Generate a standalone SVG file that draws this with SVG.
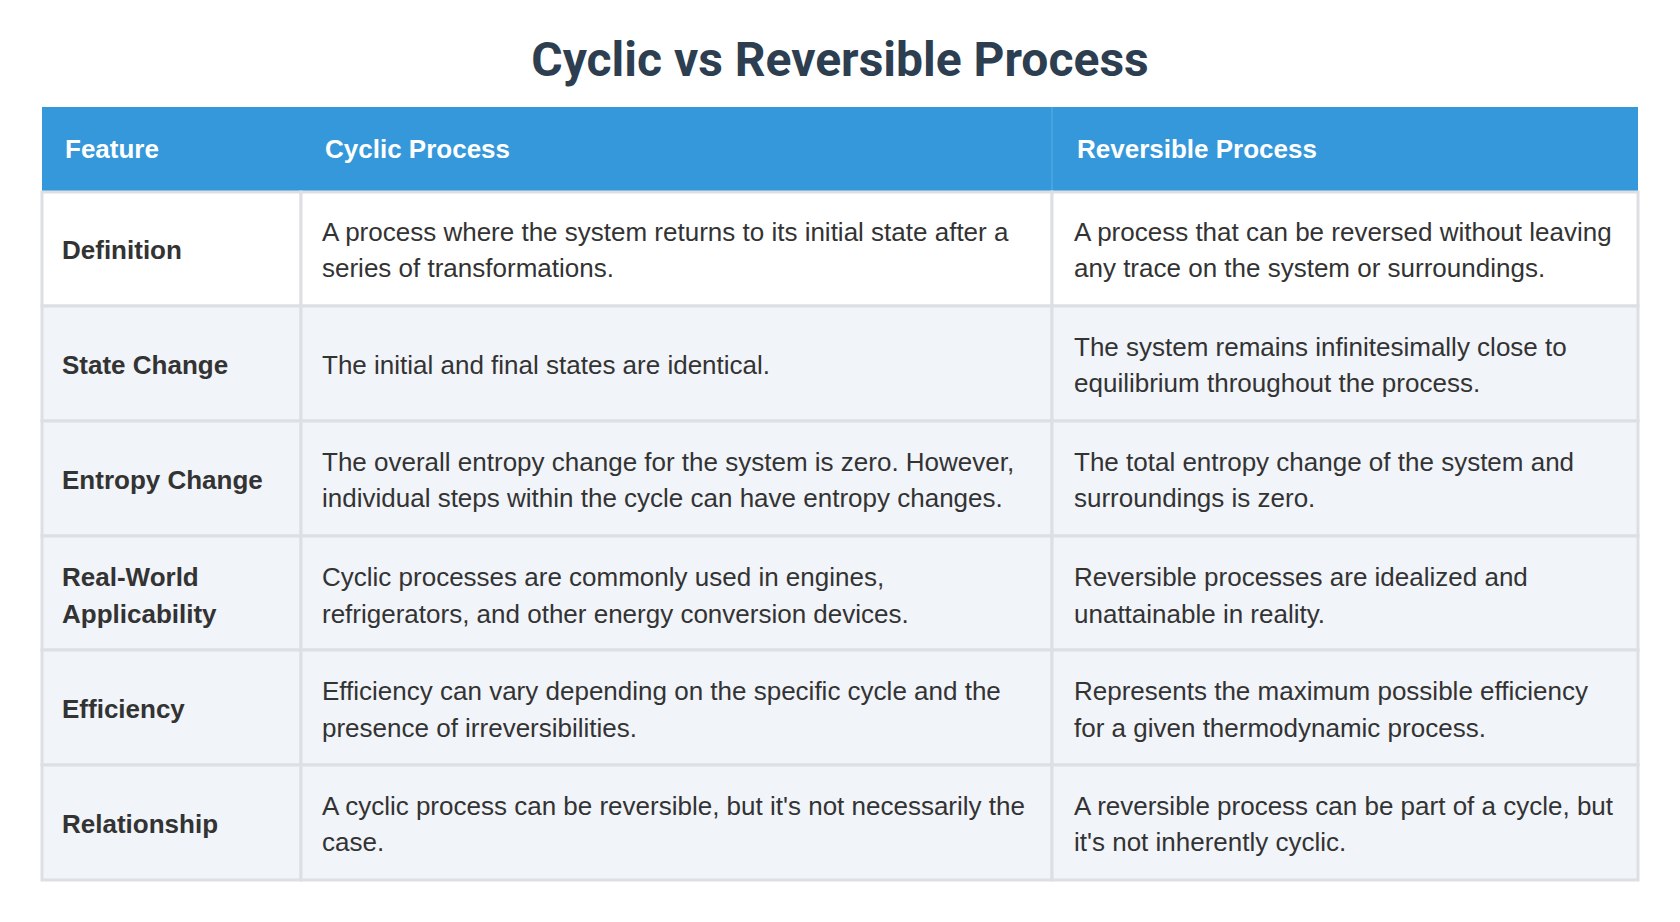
<svg xmlns="http://www.w3.org/2000/svg" width="1680" height="922" viewBox="0 0 1680 922">
<style>
.t{font-family:"Liberation Sans",Arial,sans-serif;}
.title{font-family:Roboto,"Liberation Sans",sans-serif;font-size:48px;font-weight:bold;fill:#2c3e50;}
.h{font-size:26px;font-weight:bold;fill:#fff;}
.l{font-size:26px;font-weight:bold;fill:#333;}
.c{font-size:26px;fill:#333;}
.cell{stroke:#dcdfe3;stroke-width:3;}
</style>
<rect width="1680" height="922" fill="#fff"/>
<text class="title" x="840" y="76" text-anchor="middle">Cyclic vs Reversible Process</text>
<g id="header">
<rect x="42" y="107" width="1596" height="85" fill="#3498db"/>
<line x1="1052" y1="107" x2="1052" y2="192" stroke="#5aaee6" stroke-width="1"/>
<text class="t h" x="65" y="158">Feature</text>
<text class="t h" x="325" y="158">Cyclic Process</text>
<text class="t h" x="1077" y="158">Reversible Process</text>
</g>
<g id="rows">
<g id="r1"><rect class="cell" x="42" y="192" width="259" height="114" fill="#fff"/><rect class="cell" x="301" y="192" width="751" height="114" fill="#fff"/><rect class="cell" x="1052" y="192" width="586" height="114" fill="#fff"/></g>
<g id="r2"><rect class="cell" x="42" y="306" width="259" height="115" fill="#f1f4f9"/><rect class="cell" x="301" y="306" width="751" height="115" fill="#f1f4f9"/><rect class="cell" x="1052" y="306" width="586" height="115" fill="#f1f4f9"/></g>
<g id="r3"><rect class="cell" x="42" y="421" width="259" height="115" fill="#f1f4f9"/><rect class="cell" x="301" y="421" width="751" height="115" fill="#f1f4f9"/><rect class="cell" x="1052" y="421" width="586" height="115" fill="#f1f4f9"/></g>
<g id="r4"><rect class="cell" x="42" y="536" width="259" height="114" fill="#f1f4f9"/><rect class="cell" x="301" y="536" width="751" height="114" fill="#f1f4f9"/><rect class="cell" x="1052" y="536" width="586" height="114" fill="#f1f4f9"/></g>
<g id="r5"><rect class="cell" x="42" y="650" width="259" height="115" fill="#f1f4f9"/><rect class="cell" x="301" y="650" width="751" height="115" fill="#f1f4f9"/><rect class="cell" x="1052" y="650" width="586" height="115" fill="#f1f4f9"/></g>
<g id="r6"><rect class="cell" x="42" y="765" width="259" height="115" fill="#f1f4f9"/><rect class="cell" x="301" y="765" width="751" height="115" fill="#f1f4f9"/><rect class="cell" x="1052" y="765" width="586" height="115" fill="#f1f4f9"/></g>
</g>
<g id="text">
<text class="t l" x="62" y="259">Definition</text>
<text class="t c" x="322" y="241">A process where the system returns to its initial state after a</text>
<text class="t c" x="322" y="277">series of transformations.</text>
<text class="t c" x="1074" y="241">A process that can be reversed without leaving</text>
<text class="t c" x="1074" y="277">any trace on the system or surroundings.</text>

<text class="t l" x="62" y="374">State Change</text>
<text class="t c" x="322" y="374">The initial and final states are identical.</text>
<text class="t c" x="1074" y="356">The system remains infinitesimally close to</text>
<text class="t c" x="1074" y="392">equilibrium throughout the process.</text>

<text class="t l" x="62" y="489">Entropy Change</text>
<text class="t c" x="322" y="471">The overall entropy change for the system is zero. However,</text>
<text class="t c" x="322" y="507">individual steps within the cycle can have entropy changes.</text>
<text class="t c" x="1074" y="471">The total entropy change of the system and</text>
<text class="t c" x="1074" y="507">surroundings is zero.</text>

<text class="t l" x="62" y="586">Real-World</text>
<text class="t l" x="62" y="623">Applicability</text>
<text class="t c" x="322" y="586">Cyclic processes are commonly used in engines,</text>
<text class="t c" x="322" y="623">refrigerators, and other energy conversion devices.</text>
<text class="t c" x="1074" y="586">Reversible processes are idealized and</text>
<text class="t c" x="1074" y="623">unattainable in reality.</text>

<text class="t l" x="62" y="718">Efficiency</text>
<text class="t c" x="322" y="700">Efficiency can vary depending on the specific cycle and the</text>
<text class="t c" x="322" y="737">presence of irreversibilities.</text>
<text class="t c" x="1074" y="700">Represents the maximum possible efficiency</text>
<text class="t c" x="1074" y="737">for a given thermodynamic process.</text>

<text class="t l" x="62" y="833">Relationship</text>
<text class="t c" x="322" y="815">A cyclic process can be reversible, but it's not necessarily the</text>
<text class="t c" x="322" y="851">case.</text>
<text class="t c" x="1074" y="815">A reversible process can be part of a cycle, but</text>
<text class="t c" x="1074" y="851">it's not inherently cyclic.</text>
</g>
</svg>
